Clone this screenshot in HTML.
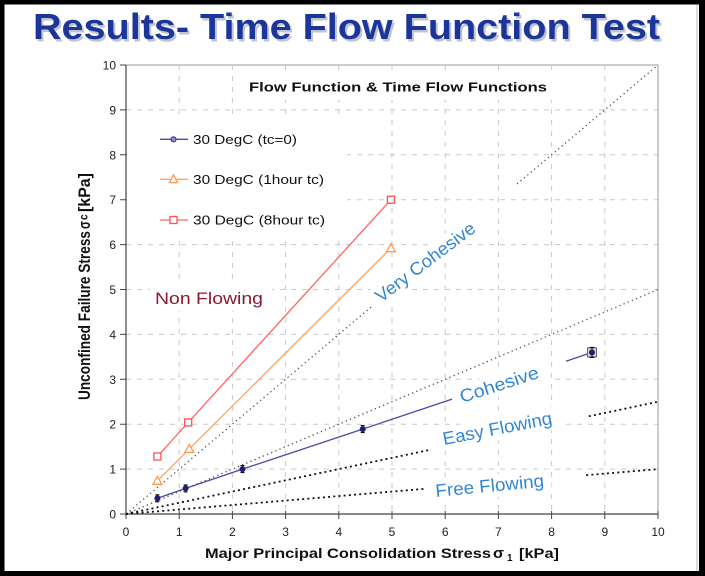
<!DOCTYPE html>
<html><head><meta charset="utf-8"><style>
html,body{margin:0;padding:0;background:#fff;}
svg{display:block;}
text{font-family:"Liberation Sans",Arial,sans-serif;}
</style></head><body>
<svg width="705" height="576" viewBox="0 0 705 576" xmlns="http://www.w3.org/2000/svg">
<rect width="705" height="576" fill="#fff"/>

<!-- Title -->
<text x="35" y="41.5" font-size="36" font-weight="bold" fill="#8e94ad" opacity="0.55" textLength="627" lengthAdjust="spacingAndGlyphs">Results- Time Flow Function Test</text>
<text x="33" y="39" font-size="36" font-weight="bold" fill="#1b3598" textLength="627" lengthAdjust="spacingAndGlyphs">Results- Time Flow Function Test</text>

<!-- Grid -->
<g stroke="#c9c9c9" stroke-width="1" stroke-dasharray="5 6" fill="none">
  <path d="M179.2 65V514M232.4 65V514M285.6 65V514M338.8 65V514M392 65V514M445.2 65V514M498.4 65V514M551.6 65V514M604.8 65V514"/>
  <path d="M126 469.1H658M126 424.2H658M126 379.3H658M126 334.4H658M126 289.5H658M126 244.6H658M126 199.7H658M126 154.8H658M126 109.9H658"/>
</g>

<!-- White boxes behind text -->
<g fill="#fff">
  <rect x="127" y="118" width="220" height="120"/>
  <rect x="243" y="74" width="310" height="26"/>
  <rect x="150" y="282" width="122" height="29"/>
  <g transform="translate(381,303) rotate(-37)"><rect x="-6" y="-17" width="135" height="22"/></g>
  <g transform="translate(462,403) rotate(-18)"><rect x="-8" y="-17" width="100" height="22"/></g>
  <g transform="translate(444,445) rotate(-11)"><rect x="-6" y="-17" width="124" height="23"/></g>
  <g transform="translate(436,497) rotate(-5.5)"><rect x="-6" y="-17" width="122" height="23"/></g>
</g>

<!-- Plot frame -->
<path d="M126 65H658V514" stroke="#9a9a9a" stroke-width="1" fill="none"/>
<path d="M126 65V514H658" stroke="#444" stroke-width="1.2" fill="none"/>
<!-- ticks -->
<g stroke="#444" stroke-width="1">
  <path d="M120 514H126M120 469.1H126M120 424.2H126M120 379.3H126M120 334.4H126M120 289.5H126M120 244.6H126M120 199.7H126M120 154.8H126M120 109.9H126M120 65H126"/>
  <path d="M126 511V519M179.2 511V519M232.4 511V519M285.6 511V519M338.8 511V519M392 511V519M445.2 511V519M498.4 511V519M551.6 511V519M604.8 511V519M658 511V519"/>
</g>

<!-- Y tick labels -->
<g font-size="12" fill="#222" text-anchor="end">
  <text x="116" y="518.5">0</text>
  <text x="116" y="473.6">1</text>
  <text x="116" y="428.7">2</text>
  <text x="116" y="383.8">3</text>
  <text x="116" y="338.9">4</text>
  <text x="116" y="294">5</text>
  <text x="116" y="249.1">6</text>
  <text x="116" y="204.2">7</text>
  <text x="116" y="159.3">8</text>
  <text x="116" y="114.4">9</text>
  <text x="116" y="69.5">10</text>
</g>
<!-- X tick labels -->
<g font-size="12" fill="#222" text-anchor="middle">
  <text x="126" y="536">0</text>
  <text x="179.2" y="536">1</text>
  <text x="232.4" y="536">2</text>
  <text x="285.6" y="536">3</text>
  <text x="338.8" y="536">4</text>
  <text x="392" y="536">5</text>
  <text x="445.2" y="536">6</text>
  <text x="498.4" y="536">7</text>
  <text x="551.6" y="536">8</text>
  <text x="604.8" y="536">9</text>
  <text x="658" y="536">10</text>
</g>

<!-- Axis titles -->
<g font-weight="bold" fill="#111">
  <text x="205" y="558" font-size="13.5" textLength="286" lengthAdjust="spacingAndGlyphs">Major Principal Consolidation Stress</text>
  <text x="493" y="558" font-size="15" textLength="11" lengthAdjust="spacingAndGlyphs">σ</text>
  <text x="507" y="561" font-size="10">1</text>
  <text x="519" y="558" font-size="13.5" textLength="40" lengthAdjust="spacingAndGlyphs">[kPa]</text>
  <g transform="translate(90,400) scale(1.2,1) rotate(-90)">
    <text x="0" y="0" font-size="13.5" textLength="169" lengthAdjust="spacingAndGlyphs">Unconfined Failure Stress</text>
    <text x="171" y="0" font-size="13.5" textLength="8" lengthAdjust="spacingAndGlyphs">σ</text>
    <text x="180" y="-2" font-size="10">c</text>
    <text x="188" y="0" font-size="13.5" textLength="39" lengthAdjust="spacingAndGlyphs">[kPa]</text>
  </g>
</g>

<!-- Chart title -->
<text x="249" y="91.5" font-size="12.5" font-weight="bold" fill="#111" textLength="298" lengthAdjust="spacingAndGlyphs">Flow Function &amp; Time Flow Functions</text>

<!-- Flow function boundary lines -->
<g fill="none" stroke="#555" stroke-width="1.3" stroke-dasharray="1.3 3.2">
  <path d="M126 514L372.3 306.1M517 184L658 65"/>
  <path d="M126 514L658 289.5"/>
</g>
<g fill="none" stroke="#111" stroke-width="1.8" stroke-dasharray="2 3.2">
  <path d="M126 514L429.2 450M588.8 416.3L658 401.75"/>
  <path d="M126 514L423.9 488.9M586.2 475.2L658 469.1"/>
</g>

<!-- Series: red (8hour) -->
<polyline points="157.4,456.5 188.2,422.4 390.9,199.7" fill="none" stroke="#ff6464" stroke-width="1.3"/>
<g fill="#fff" stroke="#ff5050" stroke-width="1.3">
  <rect x="153.9" y="453" width="7" height="7"/>
  <rect x="184.7" y="418.9" width="7" height="7"/>
  <rect x="387.4" y="196.2" width="7" height="7"/>
</g>

<!-- Series: orange (1hour) -->
<polyline points="157.4,480.8 189.3,448.9 390.9,248.2" fill="none" stroke="#ffa366" stroke-width="1.3"/>
<g fill="#fff" stroke="#ff9a50" stroke-width="1.3">
  <polygon points="157.4,476.3 153,484.3 161.8,484.3"/>
  <polygon points="189.3,444.4 184.9,452.4 193.7,452.4"/>
  <polygon points="390.9,243.7 386.5,251.7 395.3,251.7"/>
</g>

<!-- Series: blue (tc=0) -->
<polyline points="157.4,498.3 185.6,488.4 242.5,469.1 362.7,429.1 452.1,399.1" fill="none" stroke="#4a4aa8" stroke-width="1.3"/>
<path d="M566 361.3L592 352.4" stroke="#4a4aa8" stroke-width="1.3" fill="none"/>
<rect x="587.5" y="347.9" width="9" height="9" fill="#d8d8d8" stroke="#666" stroke-width="1"/>
<g stroke="#111" stroke-width="1.1">
  <path d="M157.4 494.8V501.8M155.4 494.8H159.4M155.4 501.8H159.4"/>
  <path d="M185.6 484.9V491.9M183.6 484.9H187.6M183.6 491.9H187.6"/>
  <path d="M242.5 465.6V472.6M240.5 465.6H244.5M240.5 472.6H244.5"/>
  <path d="M362.7 425.6V432.6M360.7 425.6H364.7M360.7 432.6H364.7"/>
  <path d="M592 347.4V357.4M589.5 347.4H594.5M589.5 357.4H594.5"/>
</g>
<g fill="#1f1f70" stroke="#1f1f70" stroke-width="0.8">
  <circle cx="157.4" cy="498.3" r="2.6"/>
  <circle cx="185.6" cy="488.4" r="2.6"/>
  <circle cx="242.5" cy="469.1" r="2.6"/>
  <circle cx="362.7" cy="429.1" r="2.6"/>
  <circle cx="592" cy="352.4" r="2.6"/>
</g>

<!-- Legend -->
<g>
  <path d="M160 139.3H188" stroke="#4a4aa8" stroke-width="1.3"/>
  <circle cx="173.5" cy="139.3" r="2.6" fill="#8f8fcf" stroke="#33338a" stroke-width="1"/>
  <text x="193" y="143.8" font-size="13" fill="#111" textLength="104" lengthAdjust="spacingAndGlyphs">30 DegC (tc=0)</text>

  <path d="M160 179.3H188" stroke="#ffa366" stroke-width="1.3"/>
  <polygon points="173.5,175 169.3,182.6 177.7,182.6" fill="#fff" stroke="#ff9a50" stroke-width="1.3"/>
  <text x="193" y="183.8" font-size="13" fill="#111" textLength="131" lengthAdjust="spacingAndGlyphs">30 DegC (1hour tc)</text>

  <path d="M160 220H188" stroke="#ff6464" stroke-width="1.3"/>
  <rect x="170" y="216.5" width="7" height="7" fill="#fff" stroke="#ff5050" stroke-width="1.3"/>
  <text x="193" y="224.5" font-size="13" fill="#111" textLength="132" lengthAdjust="spacingAndGlyphs">30 DegC (8hour tc)</text>
</g>

<!-- Region labels -->
<text x="155" y="304" font-size="17" fill="#8b1a2e" textLength="108" lengthAdjust="spacingAndGlyphs">Non Flowing</text>
<g font-size="18" fill="#3386d4">
  <text transform="translate(381,303) rotate(-37)" textLength="120" lengthAdjust="spacingAndGlyphs">Very Cohesive</text>
  <text transform="translate(462,403) rotate(-18)" textLength="82" lengthAdjust="spacingAndGlyphs">Cohesive</text>
  <text transform="translate(444,445) rotate(-11)" textLength="111" lengthAdjust="spacingAndGlyphs">Easy Flowing</text>
  <text transform="translate(436,497) rotate(-5.5)" textLength="109" lengthAdjust="spacingAndGlyphs">Free Flowing</text>
</g>

<!-- Outer frame -->
<g fill="#000">
  <rect x="0" y="0" width="705" height="4.5"/>
  <rect x="0" y="571" width="705" height="5"/>
  <rect x="0" y="0" width="4.5" height="576"/>
  <rect x="699" y="0" width="6" height="576"/>
</g>
<path d="M697 5V571" stroke="#bbb" stroke-width="1"/>
</svg>
</body></html>
